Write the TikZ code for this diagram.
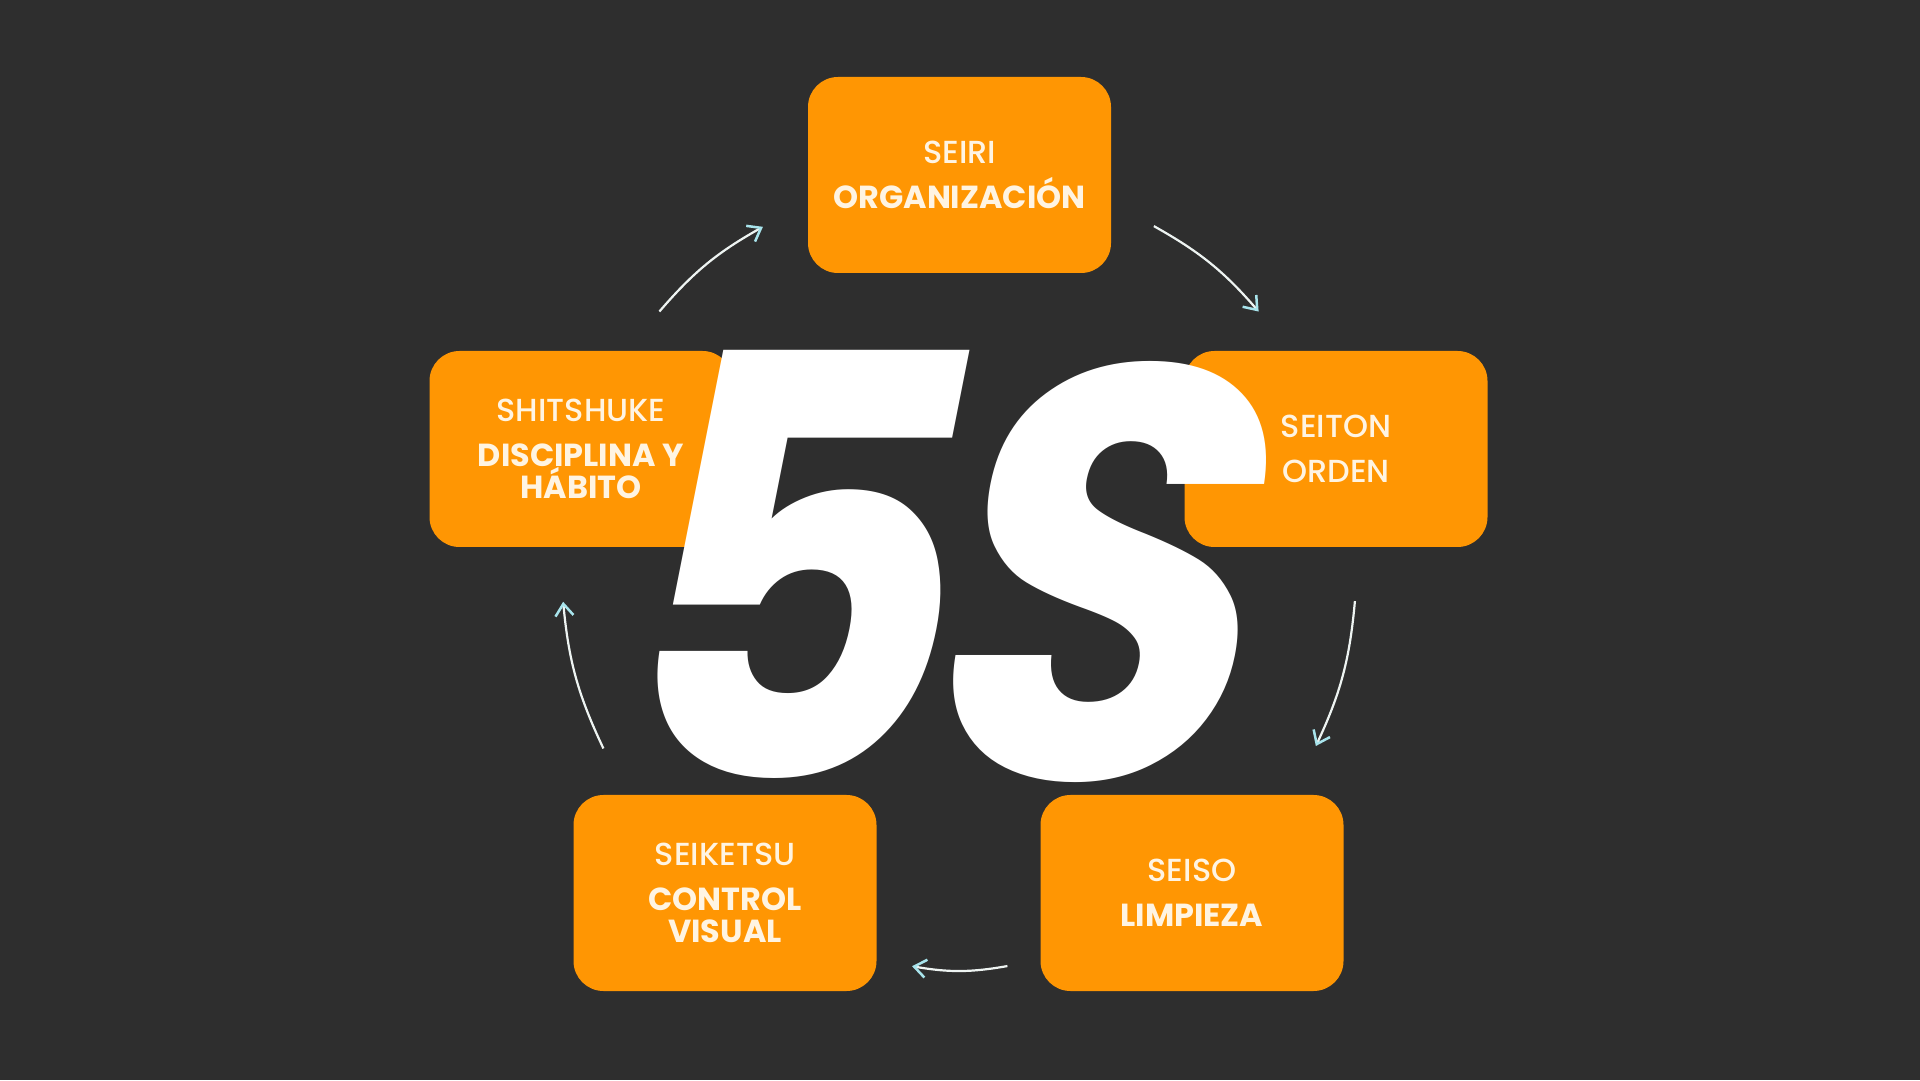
\documentclass[tikz,border=0pt]{standalone}
\usepackage{fontspec}
\setmainfont{Poppins Medium}[BoldFont=Poppins Bold]
\newfontfamily\bigfont{Poppins}[FakeSlant=0.22]
\usetikzlibrary{arrows.meta}
\definecolor{backdrop}{HTML}{2E2E2E}
\definecolor{boxorange}{HTML}{FF9603}
\definecolor{cream}{HTML}{FFF4E2}
\definecolor{tipcyan}{HTML}{A8E4EC}
\definecolor{linewhite}{HTML}{EEF4F2}
\tikzset{
  sbox/.style={fill=boxorange, rounded corners=30bp, minimum width=303bp,
    minimum height=196bp, text=cream, align=center, inner sep=0pt,
    font=\fontsize{32}{32}\selectfont},
  flow/.style={draw=linewhite, line width=2.2bp,
    -{Straight Barb[color=tipcyan, length=12bp, width=18bp, line width=2.5bp]}},
}
\begin{document}
\begin{tikzpicture}[x=1bp, y=1bp]
  \fill[backdrop] (0,0) rectangle (1920,1080);
  \useasboundingbox (0,0) rectangle (1920,1080);

  % the five steps
  \node[sbox] (seiri) at (959.5,905) {SEIRI\\[13bp]\textbf{ORGANIZACIÓN}};
  \node[sbox] (seiton) at (1336,631) {SEITON\\[13bp]ORDEN};
  \node[sbox] (seiso) at (1192,187) {SEISO\\[13bp]\textbf{LIMPIEZA}};
  \node[sbox] (seiketsu) at (725,187) {SEIKETSU\\[13bp]\textbf{CONTROL}\\\textbf{VISUAL}};
  \node[sbox] (shitshuke) at (581,631) {SHITSHUKE\\[13bp]\textbf{DISCIPLINA Y}\\\textbf{HÁBITO}};

  % cycle arrows
  \coordinate (o) at (959,508);
  \foreach \a/\b [count=\i] in {60.6/41, -4.2/-26, -83/-96.8, 206.4/184.3, 139/119.6}{
    \path (o) ++(\a:397) coordinate (f\i);
    \path (o) ++(\b:397) coordinate (t\i);
    \draw[flow] (f\i) to[bend left=10] (t\i);
  }

  \node[text=white, inner sep=0pt, xscale=0.9, transform shape,
    font=\bigfont\bfseries\fontsize{588}{588}\selectfont] (fives) at (912,514) {5\kern-27bp S};
\end{tikzpicture}
\end{document}
